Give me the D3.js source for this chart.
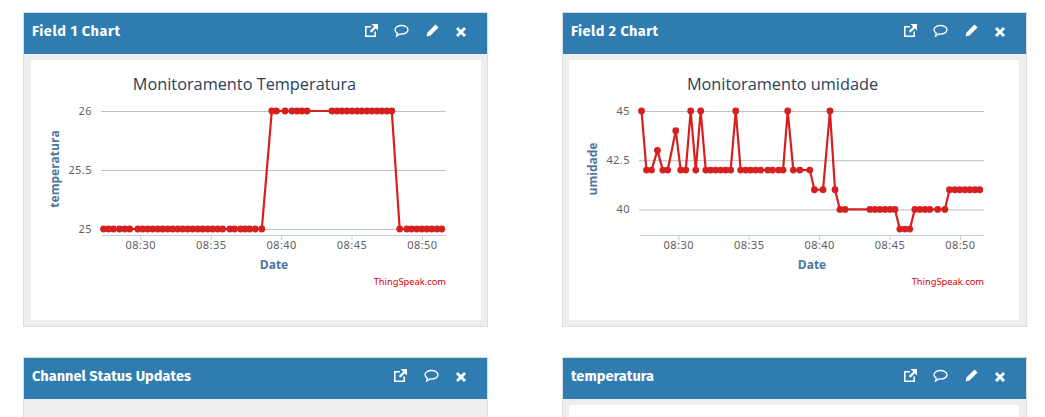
<!DOCTYPE html>
<html><head><meta charset="utf-8">
<script src="https://cdnjs.cloudflare.com/ajax/libs/d3/7.8.5/d3.min.js"></script>
<style>
html,body{margin:0;padding:0;background:#fff;overflow:hidden}
svg{display:block}
.head{font-family:"Fira Sans","Lato","Noto Sans",sans-serif;font-weight:700;font-size:14.5px;fill:#fff}
.title{font-family:"Open Sans","Noto Sans",sans-serif;font-size:16.3px;fill:#2b4058;text-anchor:middle}
.tick text{font-family:"Noto Sans","Open Sans",sans-serif;font-size:11px;letter-spacing:.45px;fill:#606060}
.axt{font-family:"Open Sans","Noto Sans",sans-serif;font-weight:700;font-size:12px;fill:#4d759e;text-anchor:middle}
.credit{font-family:"Noto Sans",sans-serif;font-size:9.3px;fill:#e00000;text-anchor:end}
</style></head><body>
<svg id="page" width="1045" height="417"></svg>
<script>
// minutes past 08:00 of every reading
const times=[27.39,27.74,28.10,28.52,28.90,29.25,29.82,30.17,30.53,30.88,31.24,31.59,31.95,32.30,32.66,33.01,33.37,33.72,34.08,34.43,34.79,35.14,35.50,35.85,36.36,36.70,37.13,37.44,37.77,38.17,38.63,39.34,39.67,40.28,40.77,41.13,41.48,41.84,43.61,43.97,44.32,44.68,45.04,45.39,45.73,46.09,46.44,46.80,47.15,47.51,47.86,48.42,48.93,49.26,49.64,49.99,50.35,50.70,51.06,51.41];
const temperatura=[25,25,25,25,25,25,25,25,25,25,25,25,25,25,25,25,25,25,25,25,25,25,25,25,25,25,25,25,25,25,25,26,26,26,26,26,26,26,26,26,26,26,26,26,26,26,26,26,26,26,26,25,25,25,25,25,25,25,25,25];
const umidade=[45,42,42,43,42,42,44,42,42,45,42,45,42,42,42,42,42,42,45,42,42,42,42,42,42,42,42,42,45,42,42,42,41,41,45,41,40,40,40,40,40,40,40,40,39,39,39,40,40,40,40,40,40,41,41,41,41,41,41,41];
const xTicks=[30,35,40,45,50];
const xTickLabels=["08:30","08:35","08:40","08:45","08:50"];
const tempTicks=[25,25.5,26];
const humTicks=[40,42.5,45];
const xDomain=[27.21,51.71];

const svg=d3.select("#page");
const BLUE="#2e7cb0";

const icons={
 open:"M1 3h6v1.6H2.6v7.8h7.8V8.6H12V14H1z M7.5 1H14v6.5l-2.2-2.2-4.4 4.4-1.6-1.6 4.4-4.4z",
 comment:"M7.5 2.5c3.6 0 6.5 1.9 6.5 4.3s-2.9 4.3-6.5 4.3c-.6 0-1.2 0-1.7-.1L2.6 13l.7-2.9C1.9 9.3 1 8.1 1 6.8c0-2.4 2.9-4.3 6.5-4.3z",
 pencil:"M10.5 1.5l3 3-8 8-4 1 1-4z",
 close:"M4 4L7 7 10 4 12 6 9 9 12 12 10 14 7 11 4 14 2 12 5 9 2 6z"
};
function icon(g,type,x){
 const p=g.append("path").attr("d",icons[type]).attr("transform",`translate(${x},11)`);
 if(type==="comment") p.attr("fill","none").attr("stroke","#fff").attr("stroke-width",1.3);
 else p.attr("fill","#fff");
}
function panel(x,y,h,title,titleWidth,iconList,innerX){
 const g=svg.append("g").attr("transform",`translate(${x},${y})`);
 g.append("rect").attr("x",.5).attr("y",.5).attr("width",464).attr("height",h).attr("fill","#eeeeee").attr("stroke","#dddddd");
 g.append("rect").attr("x",1).attr("y",1).attr("width",463).attr("height",41).attr("fill",BLUE);
 g.append("text").attr("class","head").attr("x",9).attr("y",24).attr("textLength",titleWidth).attr("lengthAdjust","spacing").text(title);
 iconList.forEach(d=>icon(g,d[0],d[1]));
 if(innerX!==null) g.append("rect").attr("x",innerX).attr("y",48).attr("width",450).attr("height",h-54).attr("fill","#fff");
 return g;
}
const fourIcons=[["open",341],["comment",371],["pencil",402],["close",431]];
panel(23,12,314,"Field 1 Chart",88,fourIcons,8);
panel(562,12,314,"Field 2 Chart",87,fourIcons,7);
panel(23,357,100,"Channel Status Updates",159,[["open",370],["comment",401],["close",431]],null);
panel(562,357,100,"temperatura",83,fourIcons,7);

function chart(left,title,yLabel,values,yDomain,yTicks,yFormat){
 const right=left+345, top=111, bottom=235;
 const g=svg.append("g");
 const x=d3.scaleLinear().domain(xDomain).range([left,right]);
 const y=d3.scaleLinear().domain(yDomain).range([bottom,top]);
 g.append("text").attr("class","title").attr("x",left+143.5).attr("y",90).text(title);
 const ya=g.append("g").attr("transform",`translate(${left},0)`)
  .call(d3.axisLeft(y).tickValues(yTicks).tickFormat(yFormat).tickSize(-345).tickPadding(9));
 ya.select(".domain").remove();
 ya.selectAll(".tick line").attr("stroke","#c0c0c0");
 ya.selectAll(".tick text").attr("dy","0.28em");
 const xa=g.append("g").attr("transform",`translate(0,${bottom})`)
  .call(d3.axisBottom(x).tickValues(xTicks).tickFormat((d,i)=>xTickLabels[i]).tickSize(5).tickPadding(1).tickSizeOuter(0));
 xa.select(".domain").attr("stroke","#c0d0e0");
 xa.selectAll(".tick line").attr("stroke","#c0d0e0");
 const pts=times.map((t,i)=>[t,values[i]]);
 g.append("path").attr("d",d3.line().x(d=>x(d[0])).y(d=>y(d[1]))(pts))
  .attr("fill","none").attr("stroke","#d62020").attr("stroke-width",2.2);
 g.selectAll("circle").data(pts).join("circle").attr("cx",d=>x(d[0])).attr("cy",d=>y(d[1])).attr("r",3.4).attr("fill","#d62020");
 g.append("text").attr("class","axt").attr("x",left+173).attr("y",269).text("Date");
 g.append("text").attr("class","axt").attr("transform",`translate(${left-42},169) rotate(-90)`).text(yLabel);
 g.append("text").attr("class","credit").attr("x",right).attr("y",285).text("ThingSpeak.com");
}
chart(101,"Monitoramento Temperatura","temperatura",temperatura,[24.949,26],tempTicks,d=>String(d));
chart(639,"Monitoramento umidade","umidade",umidade,[38.7,45],humTicks,d=>String(d));
</script>
</body></html>
